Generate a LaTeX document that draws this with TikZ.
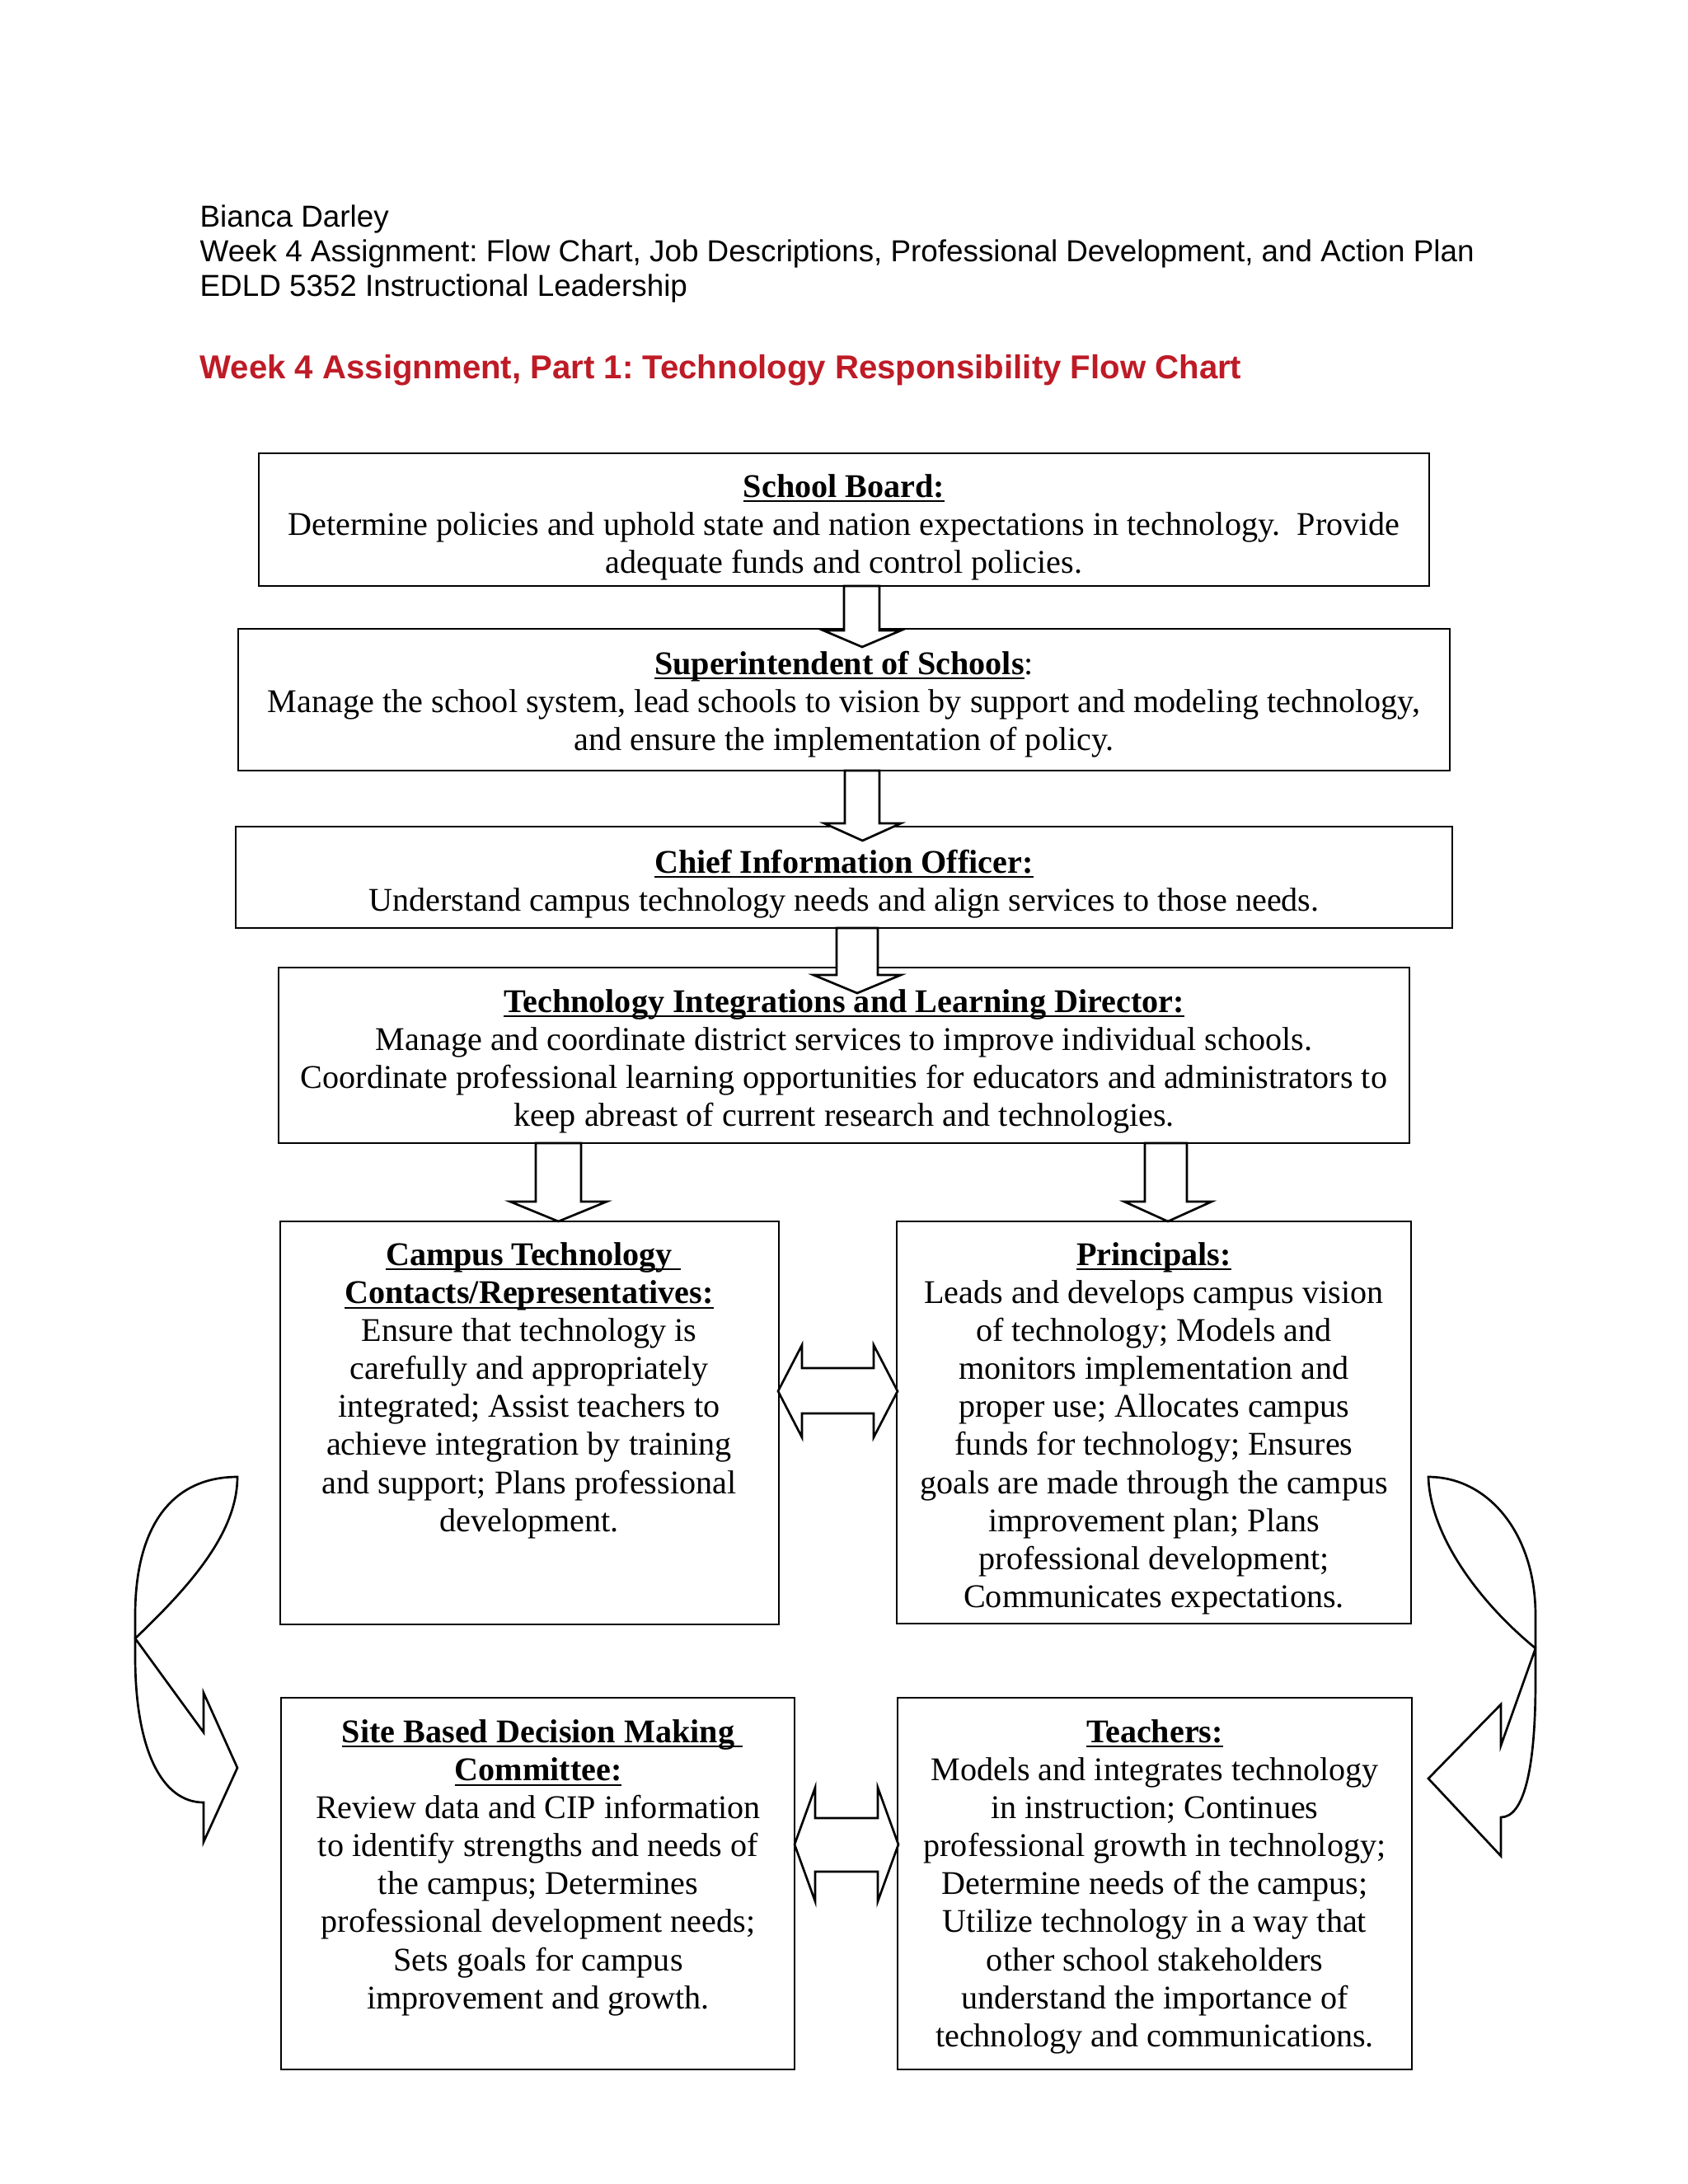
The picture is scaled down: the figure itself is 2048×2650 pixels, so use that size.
\documentclass[tikz,border=0pt]{standalone}
\usepackage{fontspec}
\setmainfont{Liberation Serif}
\newfontfamily\arialfont{Liberation Sans}
\usetikzlibrary{fit}
\definecolor{titlered}{RGB}{190,27,38}
\frenchspacing
\newlength\ulwd
\newcommand\myul[1]{\settowidth\ulwd{#1}\rlap{\rule[-1.9pt]{\ulwd}{0.6pt}}#1}
\newcommand\ttlb[1]{\textbf{\myul{#1}}}
\newcommand\downblock[7]{% xl xr ytop yhead ytip hl hr
  \draw[blockarrow] (#1,#3) -- (#1,#4) -- (#6,#4) -- ({(#6+#7)/2},#5) -- (#7,#4) -- (#2,#4) -- (#2,#3) -- cycle;}
\newcommand\hdouble[9]{% xl xr yc bl br yo1 yo2 ys1 ys2
  \draw[blockarrow] (#1,#3) -- (#4,#6) -- (#4,#8) -- (#5,#8) -- (#5,#6) -- (#2,#3) -- (#5,#7) -- (#5,#9) -- (#4,#9) -- (#4,#7) -- cycle;}
\begin{document}
\begin{tikzpicture}[x=0.29883pt,y=-0.29883pt,
  box/.style={draw, line width=0.5pt, inner sep=0pt},
  blockarrow/.style={draw, fill=white, line width=0.8pt, line join=miter},
  txt/.style={align=center, inner sep=0pt, anchor=north, font=\fontsize{12}{13.8}\selectfont},
  hdr/.style={inner sep=0pt, anchor=base west, font=\arialfont\fontsize{11}{13}\selectfont},
  ttl/.style={inner sep=0pt, anchor=base west, text=titlered, font=\arialfont\bfseries\fontsize{12}{14}\selectfont}]
\useasboundingbox[fill=white] (0,0) rectangle (2048,2650);

% header
\node[hdr] (h1) at (242,275) {Bianca Darley};
\node[hdr] (h2) at (242,317) {Week 4 Assignment: Flow Chart, Job Descriptions, Professional Development, and Action Plan};
\node[hdr] (h3) at (242,359) {EDLD 5352 Instructional Leadership};
\node[ttl] (title) at (242,459) {Week 4 Assignment, Part 1: Technology Responsibility Flow Chart};

% box corners
\coordinate (b1a) at (314,550);  \coordinate (b1b) at (1734,711);
\coordinate (b2a) at (289,763);  \coordinate (b2b) at (1759,935);
\coordinate (b3a) at (286,1003); \coordinate (b3b) at (1762,1126);
\coordinate (b4a) at (338,1174); \coordinate (b4b) at (1710,1387);
\coordinate (b5a) at (340,1482); \coordinate (b5b) at (945,1971);
\coordinate (b6a) at (1088,1482);\coordinate (b6b) at (1712,1970);
\coordinate (b7a) at (341,2060); \coordinate (b7b) at (964,2511);
\coordinate (b8a) at (1089,2060);\coordinate (b8b) at (1713,2511);

\node[box, fit=(b1a)(b1b)] (board) {};
\node[box, fit=(b2a)(b2b)] (super) {};
\node[box, fit=(b3a)(b3b)] (cio) {};
\node[box, fit=(b4a)(b4b)] (tild) {};
\node[box, fit=(b5a)(b5b)] (campus) {};
\node[box, fit=(b6a)(b6b)] (principals) {};
\node[box, fit=(b7a)(b7b)] (sbdm) {};
\node[box, fit=(b8a)(b8b)] (teachers) {};

% block arrows
\downblock{1024}{1067}{711}{765}{785}{999}{1093}
\downblock{1025}{1067}{935}{999}{1020}{1000}{1093}
\downblock{1015}{1065}{1126}{1183}{1205}{987}{1093}
\downblock{650}{705}{1387}{1458}{1482}{619}{736}
\downblock{1389}{1440}{1387}{1458}{1482}{1364}{1470}
\hdouble{944}{1089}{1688}{973}{1060}{1632}{1744}{1660}{1715}
\hdouble{964}{1090}{2238}{989}{1065}{2169}{2307}{2206}{2271}

% curved arrows
\draw[blockarrow] (288,1792) .. controls (288,1860) and (230,1925) .. (164,1988)
  -- (247,2102) -- (247,2054) -- (288,2145) -- (247,2235) -- (247,2187)
  .. controls (195,2187) and (164,2120) .. (164,2010) -- (164,1960)
  .. controls (164,1850) and (210,1792) .. cycle;
\draw[blockarrow] (1733,1792) .. controls (1735,1860) and (1790,1940) .. (1863,2000)
  -- (1821,2118) -- (1821,2068) -- (1733,2158) -- (1821,2252) -- (1821,2205)
  .. controls (1848,2205) and (1863,2150) .. (1863,2040) -- (1863,1960)
  .. controls (1863,1860) and (1805,1792) .. cycle;

% texts
\node[txt] (boardtxt) at (1024,570) {\strut\ttlb{School Board:}\\
Determine policies and uphold state and nation expectations in technology.\ \ Provide\\
adequate funds and control policies.};
\node[txt] (supertxt) at (1024,785) {\strut\ttlb{Superintendent of Schools}:\\
Manage the school system, lead schools to vision by support and modeling technology,\\
and ensure the implementation of policy.};
\node[txt] (ciotxt) at (1024,1026) {\strut\ttlb{Chief Information Officer:}\\
Understand campus technology needs and align services to those needs.};
\node[txt] (tildtxt) at (1024,1195) {\strut\ttlb{Technology Integrations and Learning Director:}\\
Manage and coordinate district services to improve individual schools.\\
Coordinate professional learning opportunities for educators and administrators to\\
keep abreast of current research and technologies.};
\node[txt] (campustxt) at (642,1502) {\strut\ttlb{Campus Technology\ }\\
\ttlb{Contacts/Representatives:}\\
Ensure that technology is\\
carefully and appropriately\\
integrated; Assist teachers to\\
achieve integration by training\\
and support; Plans professional\\
development.};
\node[txt] (principalstxt) at (1400,1502) {\strut\ttlb{Principals:}\\
Leads and develops campus vision\\
of technology; Models and\\
monitors implementation and\\
proper use; Allocates campus\\
funds for technology; Ensures\\
goals are made through the campus\\
improvement plan; Plans\\
professional development;\\
Communicates expectations.};
\node[txt] (sbdmtxt) at (653,2081) {\strut\ttlb{Site Based Decision Making\ }\\
\ttlb{Committee:}\\
Review data and CIP information\\
to identify strengths and needs of\\
the campus; Determines\\
professional development needs;\\
Sets goals for campus\\
improvement and growth.};
\node[txt] (teacherstxt) at (1401,2081) {\strut\ttlb{Teachers:}\\
Models and integrates technology\\
in instruction; Continues\\
professional growth in technology;\\
Determine needs of the campus;\\
Utilize technology in a way that\\
other school stakeholders\\
understand the importance of\\
technology and communications.};
\end{tikzpicture}
\end{document}
